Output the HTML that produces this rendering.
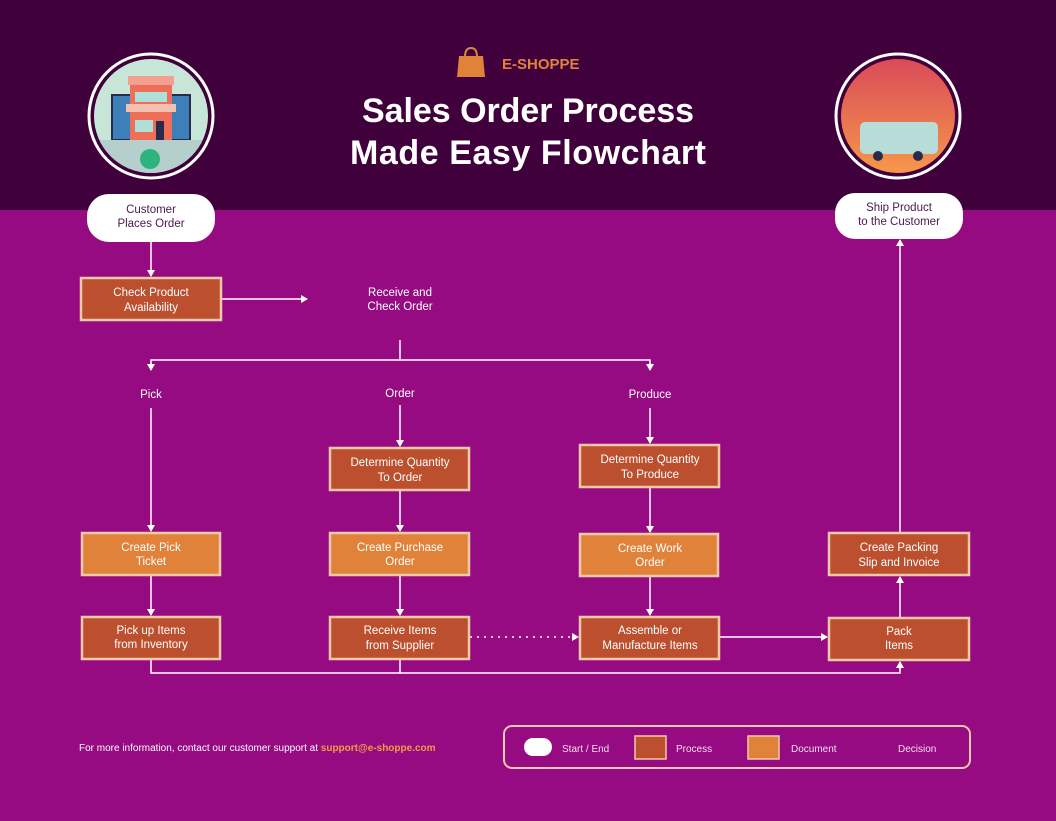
<!DOCTYPE html>
<html><head><meta charset="utf-8"><style>
html,body{margin:0;padding:0}
body{width:1056px;height:816px;overflow:hidden;background:#960a82;font-family:"Liberation Sans",sans-serif}
svg text{font-family:"Liberation Sans",sans-serif}
</style></head><body>
<svg width="1056" height="816" xmlns="http://www.w3.org/2000/svg">
<defs>
<marker id="a" markerWidth="8" markerHeight="8" refX="6" refY="4" orient="auto" markerUnits="userSpaceOnUse"><path d="M0,0 L7,4 L0,8 z" fill="#fff"/></marker>
<clipPath id="c1"><circle cx="151" cy="116" r="57"/></clipPath>
<clipPath id="c2"><circle cx="898" cy="116" r="57"/></clipPath>
<linearGradient id="sun" x1="0" y1="0" x2="0" y2="1"><stop offset="0" stop-color="#d9485a"/><stop offset="1" stop-color="#f79a4a"/></linearGradient>
</defs>
<rect width="1056" height="210" fill="#3f003c"/>
<rect y="210" width="1056" height="606" fill="#960a82"/>
<path d="M459,56 L483,56 L485,77 L457,77 z" fill="#e0823a"/>
<path d="M465,57 Q465,48 471,48 Q477,48 477,57" stroke="#e0823a" stroke-width="2" fill="none"/>
<text x="502" y="69" fill="#e0823a" font-size="15" font-weight="bold">E-SHOPPE</text>
<text x="528" y="122" fill="#fff" font-size="34" font-weight="bold" text-anchor="middle" textLength="332">Sales Order Process</text>
<text x="528" y="164" fill="#fff" font-size="34" font-weight="bold" text-anchor="middle" textLength="356">Made Easy Flowchart</text>
<circle cx="151" cy="116" r="62" fill="none" stroke="#fff" stroke-width="3"/>
<g clip-path="url(#c1)"><rect x="90" y="55" width="122" height="122" fill="#c8e6d8"/>
<rect x="112" y="95" width="78" height="45" fill="#3d7fb8" stroke="#2c2a4a" stroke-width="2"/>
<rect x="130" y="85" width="42" height="55" fill="#ee6e5a"/>
<rect x="128" y="76" width="46" height="9" fill="#f4a090"/>
<rect x="126" y="104" width="50" height="8" fill="#f4c0b0"/>
<rect x="135" y="92" width="32" height="10" fill="#aee0d8"/>
<rect x="135" y="120" width="18" height="12" fill="#aee0d8"/>
<rect x="156" y="121" width="8" height="19" fill="#2c2a4a"/>
<rect x="100" y="140" width="102" height="40" fill="#b5d0cc"/>
<circle cx="150" cy="159" r="10" fill="#2db37d"/></g>
<circle cx="898" cy="116" r="62" fill="none" stroke="#fff" stroke-width="3"/>
<g clip-path="url(#c2)"><rect x="838" y="55" width="122" height="122" fill="url(#sun)"/>
<rect x="860" y="122" width="78" height="32" rx="5" fill="#b8dcd8"/>
<circle cx="878" cy="156" r="5" fill="#2c2a4a"/><circle cx="918" cy="156" r="5" fill="#2c2a4a"/></g>
<g stroke="#fff" stroke-width="1.5" fill="none">
<line x1="151" y1="242" x2="151" y2="276" marker-end="url(#a)"/>
<line x1="222" y1="299" x2="307" y2="299" marker-end="url(#a)"/>
<line x1="400" y1="340" x2="400" y2="360"/>
<polyline points="151,370 151,360 650,360 650,370"/>
<line x1="151" y1="363" x2="151" y2="370" marker-end="url(#a)"/>
<line x1="650" y1="363" x2="650" y2="370" marker-end="url(#a)"/>
<line x1="400" y1="405" x2="400" y2="446" marker-end="url(#a)"/>
<line x1="151" y1="408" x2="151" y2="531" marker-end="url(#a)"/>
<line x1="650" y1="408" x2="650" y2="443" marker-end="url(#a)"/>
<line x1="400" y1="491" x2="400" y2="531" marker-end="url(#a)"/>
<line x1="650" y1="488" x2="650" y2="532" marker-end="url(#a)"/>
<line x1="151" y1="576" x2="151" y2="615" marker-end="url(#a)"/>
<line x1="400" y1="576" x2="400" y2="615" marker-end="url(#a)"/>
<line x1="650" y1="577" x2="650" y2="615" marker-end="url(#a)"/>
<line x1="470" y1="637" x2="578" y2="637" stroke-dasharray="2,5" marker-end="url(#a)"/>
<line x1="720" y1="637" x2="827" y2="637" marker-end="url(#a)"/>
<line x1="900" y1="617" x2="900" y2="577" marker-end="url(#a)"/>
<line x1="900" y1="532" x2="900" y2="240" marker-end="url(#a)"/>
<polyline points="151,660 151,673 900,673 900,662"/>
<line x1="400" y1="660" x2="400" y2="673"/>
<line x1="900" y1="670" x2="900" y2="662" marker-end="url(#a)"/>
</g>
<rect x="87" y="194" width="128" height="48" rx="22" fill="#fff"/>
<text fill="#4a1a4a" font-size="11.5" text-anchor="middle"><tspan x="151" y="213">Customer</tspan><tspan x="151" y="227">Places Order</tspan></text>
<rect x="835" y="193" width="128" height="46" rx="20" fill="#fff"/>
<text fill="#4a1a4a" font-size="11.5" text-anchor="middle"><tspan x="899" y="211">Ship Product</tspan><tspan x="899" y="225">to the Customer</tspan></text>
<g stroke="#f2c9a8" stroke-width="2.5">
<rect x="81" y="278" width="140" height="42" fill="#bb4f2e"/>
<rect x="330" y="448" width="139" height="42" fill="#bb4f2e"/>
<rect x="580" y="445" width="139" height="42" fill="#bb4f2e"/>
<rect x="82" y="533" width="138" height="42" fill="#e0823a"/>
<rect x="330" y="533" width="139" height="42" fill="#e0823a"/>
<rect x="580" y="534" width="138" height="42" fill="#e0823a"/>
<rect x="829" y="533" width="140" height="42" fill="#bb4f2e"/>
<rect x="82" y="617" width="138" height="42" fill="#bb4f2e"/>
<rect x="330" y="617" width="139" height="42" fill="#bb4f2e"/>
<rect x="580" y="617" width="139" height="42" fill="#bb4f2e"/>
<rect x="829" y="618" width="140" height="42" fill="#bb4f2e"/>
</g>
<g fill="#fff" font-size="11.5" text-anchor="middle">
<text><tspan x="151" y="296">Check Product</tspan><tspan x="151" y="311">Availability</tspan></text>
<text><tspan x="400" y="296">Receive and</tspan><tspan x="400" y="310">Check Order</tspan></text>
<text x="151" y="398">Pick</text><text x="400" y="397">Order</text><text x="650" y="398">Produce</text>
<text><tspan x="400" y="466">Determine Quantity</tspan><tspan x="400" y="481">To Order</tspan></text>
<text><tspan x="650" y="463">Determine Quantity</tspan><tspan x="650" y="478">To Produce</tspan></text>
<text><tspan x="151" y="551">Create Pick</tspan><tspan x="151" y="565">Ticket</tspan></text>
<text><tspan x="400" y="551">Create Purchase</tspan><tspan x="400" y="565">Order</tspan></text>
<text><tspan x="650" y="552">Create Work</tspan><tspan x="650" y="566">Order</tspan></text>
<text><tspan x="899" y="551">Create Packing</tspan><tspan x="899" y="566">Slip and Invoice</tspan></text>
<text><tspan x="151" y="634">Pick up Items</tspan><tspan x="151" y="648">from Inventory</tspan></text>
<text><tspan x="400" y="634">Receive Items</tspan><tspan x="400" y="649">from Supplier</tspan></text>
<text><tspan x="650" y="634">Assemble or</tspan><tspan x="650" y="649">Manufacture Items</tspan></text>
<text><tspan x="899" y="635">Pack</tspan><tspan x="899" y="649">Items</tspan></text>
</g>
<text x="79" y="751" fill="#fff" font-size="10">For more information, contact our customer support at <tspan fill="#f0a040" font-weight="bold">support@e-shoppe.com</tspan></text>
<rect x="504" y="726" width="466" height="42" rx="8" fill="none" stroke="#f2c9a8" stroke-width="2"/>
<rect x="524" y="738" width="28" height="18" rx="9" fill="#fff"/>
<text x="562" y="752" fill="#f5dcef" font-size="10">Start / End</text>
<rect x="635" y="736" width="31" height="23" fill="#bb4f2e" stroke="#f2c9a8" stroke-width="1.5"/>
<text x="676" y="752" fill="#f5dcef" font-size="10">Process</text>
<rect x="748" y="736" width="31" height="23" fill="#e0823a" stroke="#f2c9a8" stroke-width="1.5"/>
<text x="791" y="752" fill="#f5dcef" font-size="10">Document</text>
<text x="898" y="752" fill="#f5dcef" font-size="10">Decision</text>
</svg>
</body></html>
